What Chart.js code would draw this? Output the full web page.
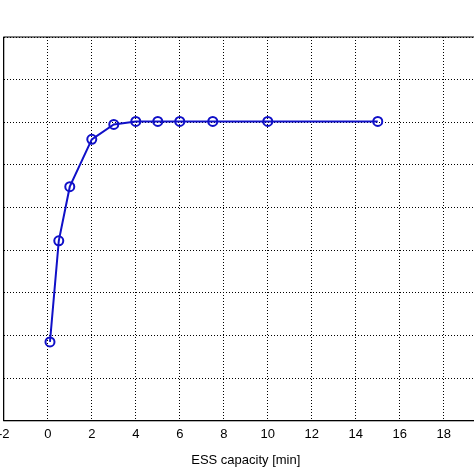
<!DOCTYPE html>
<html><head>
<script src="https://cdn.jsdelivr.net/npm/chart.js@4"></script>
<style>
html,body{margin:0;padding:0;overflow:hidden;background:#fff;width:474px;height:474px}
#wrap{position:absolute;left:-8px;top:0;width:509px;height:474px}
</style>
</head><body>
<div id="wrap"><canvas id="c"></canvas></div>
<script>
// ESS capacity [min] vs. output (y labels cropped in reference)
const essCapacity = [0.1, 0.5, 1, 2, 3, 4, 5, 6, 7.5, 10, 15];
const values = [1.85, 4.22, 5.49, 6.6, 6.95, 7.02, 7.02, 7.02, 7.02, 7.02, 7.02];
const xTicks = [-2, 0, 2, 4, 6, 8, 10, 12, 14, 16, 18, 20];

const frame = {
    id: 'frame',
    afterDraw(chart) {
        const a = chart.chartArea, ctx = chart.ctx;
        ctx.save();
        ctx.strokeStyle = '#000';
        ctx.lineWidth = 1;
        ctx.strokeRect(a.left, a.top, a.right - a.left, a.bottom - a.top);
        ctx.restore();
    }
};

new Chart(document.getElementById('c'), {
    type: 'line',
    data: {
        datasets: [{
            data: essCapacity.map((x, i) => ({ x: x, y: values[i] })),
            borderColor: '#1010c8',
            borderWidth: 2,
            pointStyle: 'circle',
            pointRadius: 4.5,
            pointBorderWidth: 2,
            pointBackgroundColor: 'rgba(0,0,0,0)',
            pointBorderColor: '#1010c8',
            tension: 0,
        }],
    },
    options: {
        responsive: true,
        maintainAspectRatio: false,
        animation: false,
        layout: { padding: { top: 37, right: 11, left: 3, bottom: 2 } },
        plugins: { legend: { display: false }, tooltip: { enabled: false } },
        scales: {
            x: {
                type: 'linear',
                min: -2,
                max: 20,
                afterBuildTicks: (s) => { s.ticks = xTicks.map(v => ({ value: v })); },
                grid: { color: '#000', lineWidth: 1, drawTicks: false },
                border: { color: '#000', dash: [1, 2] },
                ticks: { color: '#000', padding: 6, font: { family: 'Liberation Sans', size: 13 } },
                title: { display: true, text: 'ESS capacity [min]', color: '#000', padding: { top: 4 },
                    font: { family: 'Liberation Sans', size: 13 } },
            },
            y: {
                min: 0,
                max: 9,
                ticks: { display: false, stepSize: 1 },
                grid: { color: '#000', lineWidth: 1, drawTicks: false },
                border: { color: '#000', dash: [1, 2] },
            }
        }
    },
    plugins: [frame]
});
</script>
</body></html>
